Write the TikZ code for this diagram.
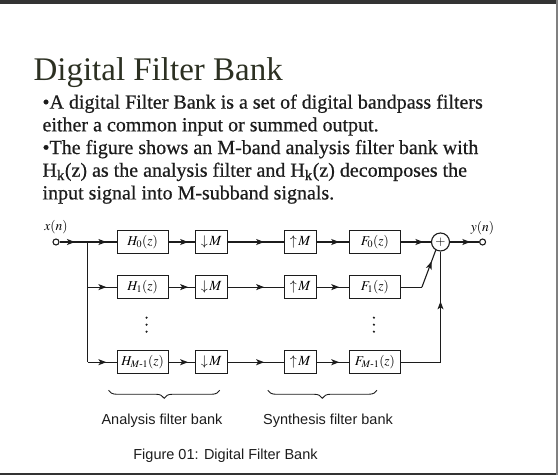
\documentclass[tikz,border=0pt]{standalone}
\usepackage{amsmath}
\usepackage{mathptmx}
\usepackage{fontspec}
\setmainfont{Liberation Serif}
\newfontfamily\capfont{Liberation Sans}
\newfontfamily\bodyfont[FakeBold=0.6]{Liberation Serif}
\usepackage{tikz}
\usetikzlibrary{arrows.meta,positioning,calc,decorations.markings,decorations.pathreplacing}
\definecolor{titlecol}{HTML}{2C3022}
\definecolor{textcol}{HTML}{1C1C1C}
\definecolor{barcol}{HTML}{333333}

\begin{document}
\begin{tikzpicture}[x=1pt, y=-1pt, line width=1.1pt, draw=textcol,
  filt/.style={draw, minimum width=51pt, minimum height=23pt, inner sep=1pt, font=\fontsize{13.5}{15}\selectfont},
  samp/.style={draw, minimum width=32pt, minimum height=23pt, inner sep=1pt, font=\fontsize{14}{15}\selectfont},
  port/.style={draw, circle, minimum size=6pt, inner sep=0pt},
  sumnode/.style={draw, circle, minimum size=18pt, inner sep=0pt, font=\fontsize{13}{14}\selectfont},
  sig/.style={postaction={decorate}, decoration={markings, mark=at position #1 with {\arrow{Stealth[length=8pt,width=6pt,inset=2pt]}}}},
  sig/.default=0.65,
  brc/.style={decorate, decoration={brace, mirror, amplitude=8pt}},
  caption/.style={font=\capfont\fontsize{14.5}{17}\selectfont, text=textcol},
  lbl/.style={font=\fontsize{13.5}{15}\selectfont, inner sep=1pt},
  dotmark/.style={circle, fill=textcol, minimum size=2.4pt, inner sep=0pt}]
\useasboundingbox (0,0) rectangle (558,475);
% Slide frame
\fill[barcol] (0,0) rectangle (558,3.5);
\fill[barcol] (0,472.5) rectangle (558,475);
\fill[gray] (556,0) rectangle (558,475);
% Title and text
\node[anchor=base west, inner sep=0pt, text=titlecol, font=\fontsize{33}{40}\selectfont] (title) at (33,80) {Digital Filter Bank};
\node[anchor=north west, inner sep=0pt, align=left, text=textcol, font=\bodyfont\fontsize{20}{22.7}\selectfont] (body) at (42,94)
  {•A digital Filter Bank is a set of digital bandpass filters\\
   either a common input or summed output.\\
   •The figure shows an M-band analysis filter bank with\\
   H\textsubscript{k}(z) as the analysis filter and H\textsubscript{k}(z) decomposes the\\
   input signal into M-subband signals.};
% Input
\node[port] (xin) at (56,242) {};
\node[lbl, above=3pt of xin] (xlab) {$x(n)$};
\coordinate[right=28pt of xin] (br);
% Analysis filters
\node[filt, right=29pt of br] (h0) {$H_0(z)$};
\node[filt, below=21pt of h0] (h1) {$H_1(z)$};
\node[filt, below=51pt of h1] (h2) {$H_{M\text{-}1}(z)$};
\coordinate[xshift=4pt] (hdots) at ($(h1)!0.5!(h2)$);
% Downsamplers
\node[samp, right=26pt of h0] (d0) {$\downarrow\!M$};
\node[samp, right=26pt of h1] (d1) {$\downarrow\!M$};
\node[samp, right=26pt of h2] (d2) {$\downarrow\!M$};
% Upsamplers
\node[samp, right=56pt of d0] (u0) {$\uparrow\!M$};
\node[samp, right=56pt of d1] (u1) {$\uparrow\!M$};
\node[samp, right=56pt of d2] (u2) {$\uparrow\!M$};
% Synthesis filters
\node[filt, right=32pt of u0] (f0) {$F_0(z)$};
\node[filt, right=32pt of u1] (f1) {$F_1(z)$};
\node[filt, right=32pt of u2] (f2) {$F_{M\text{-}1}(z)$};
\coordinate[xshift=-1pt] (fdots) at ($(f1)!0.5!(f2)$);
% Vertical dots
\foreach \c in {hdots,fdots}
  \foreach \dy in {-7,0,7}
    \node[dotmark] at ([yshift=\dy pt]\c) {};
% Sum and output
\node[sumnode, right=30pt of f0] (sum) {$+$};
\node[port, right=29pt of sum] (yout) {};
\node[lbl, above=2pt of yout] (ylab) {$y(n)$};
% Connections
\coordinate (br1) at (br |- h1.west);
\coordinate (br2) at (br |- h2.west);
\draw[sig=0.55] (xin) -- (br);
\draw (br) -- (br2);
\draw[sig] (br) -- (h0);
\draw[sig] (br1) -- (h1);
\draw[sig] (br2) -- (h2);
\draw[sig=0.75] (h0) -- (d0);
\draw[sig=0.75] (h1) -- (d1);
\draw[sig=0.75] (h2) -- (d2);
\draw[sig] (d0) -- (u0);
\draw[sig] (d1) -- (u1);
\draw[sig] (d2) -- (u2);
\draw[sig=0.7] (u0) -- (f0);
\draw[sig=0.7] (u1) -- (f1);
\draw[sig=0.7] (u2) -- (f2);
\draw[sig=0.75] (f0) -- (sum);
\coordinate[right=21pt of f1] (k1);
\draw (f1) -- (k1);
\draw[sig=0.7] (k1) -- (sum.240);
\coordinate (k2) at (sum |- f2.east);
\draw (f2) -- (k2);
\draw[sig=0.55] (k2) -- (sum);
\draw[sig=0.7] (sum) -- (yout);
% Braces and labels
\draw[brc, line width=0.9pt] ([xshift=-8pt,yshift=-16pt]h2.south west) -- ([xshift=-8pt,yshift=-16pt]d2.south east);
\draw[brc, line width=0.9pt] ([xshift=-16pt,yshift=-16pt]u2.south west) -- ([xshift=-24pt,yshift=-16pt]f2.south east);
\node[caption] (alab) at (162,421) {Analysis filter bank};
\node[caption] (slab) at (328,421) {Synthesis filter bank};
\node[caption] (figcap) at (225.5,456) {Figure 01: Digital Filter Bank};
\end{tikzpicture}
\end{document}
